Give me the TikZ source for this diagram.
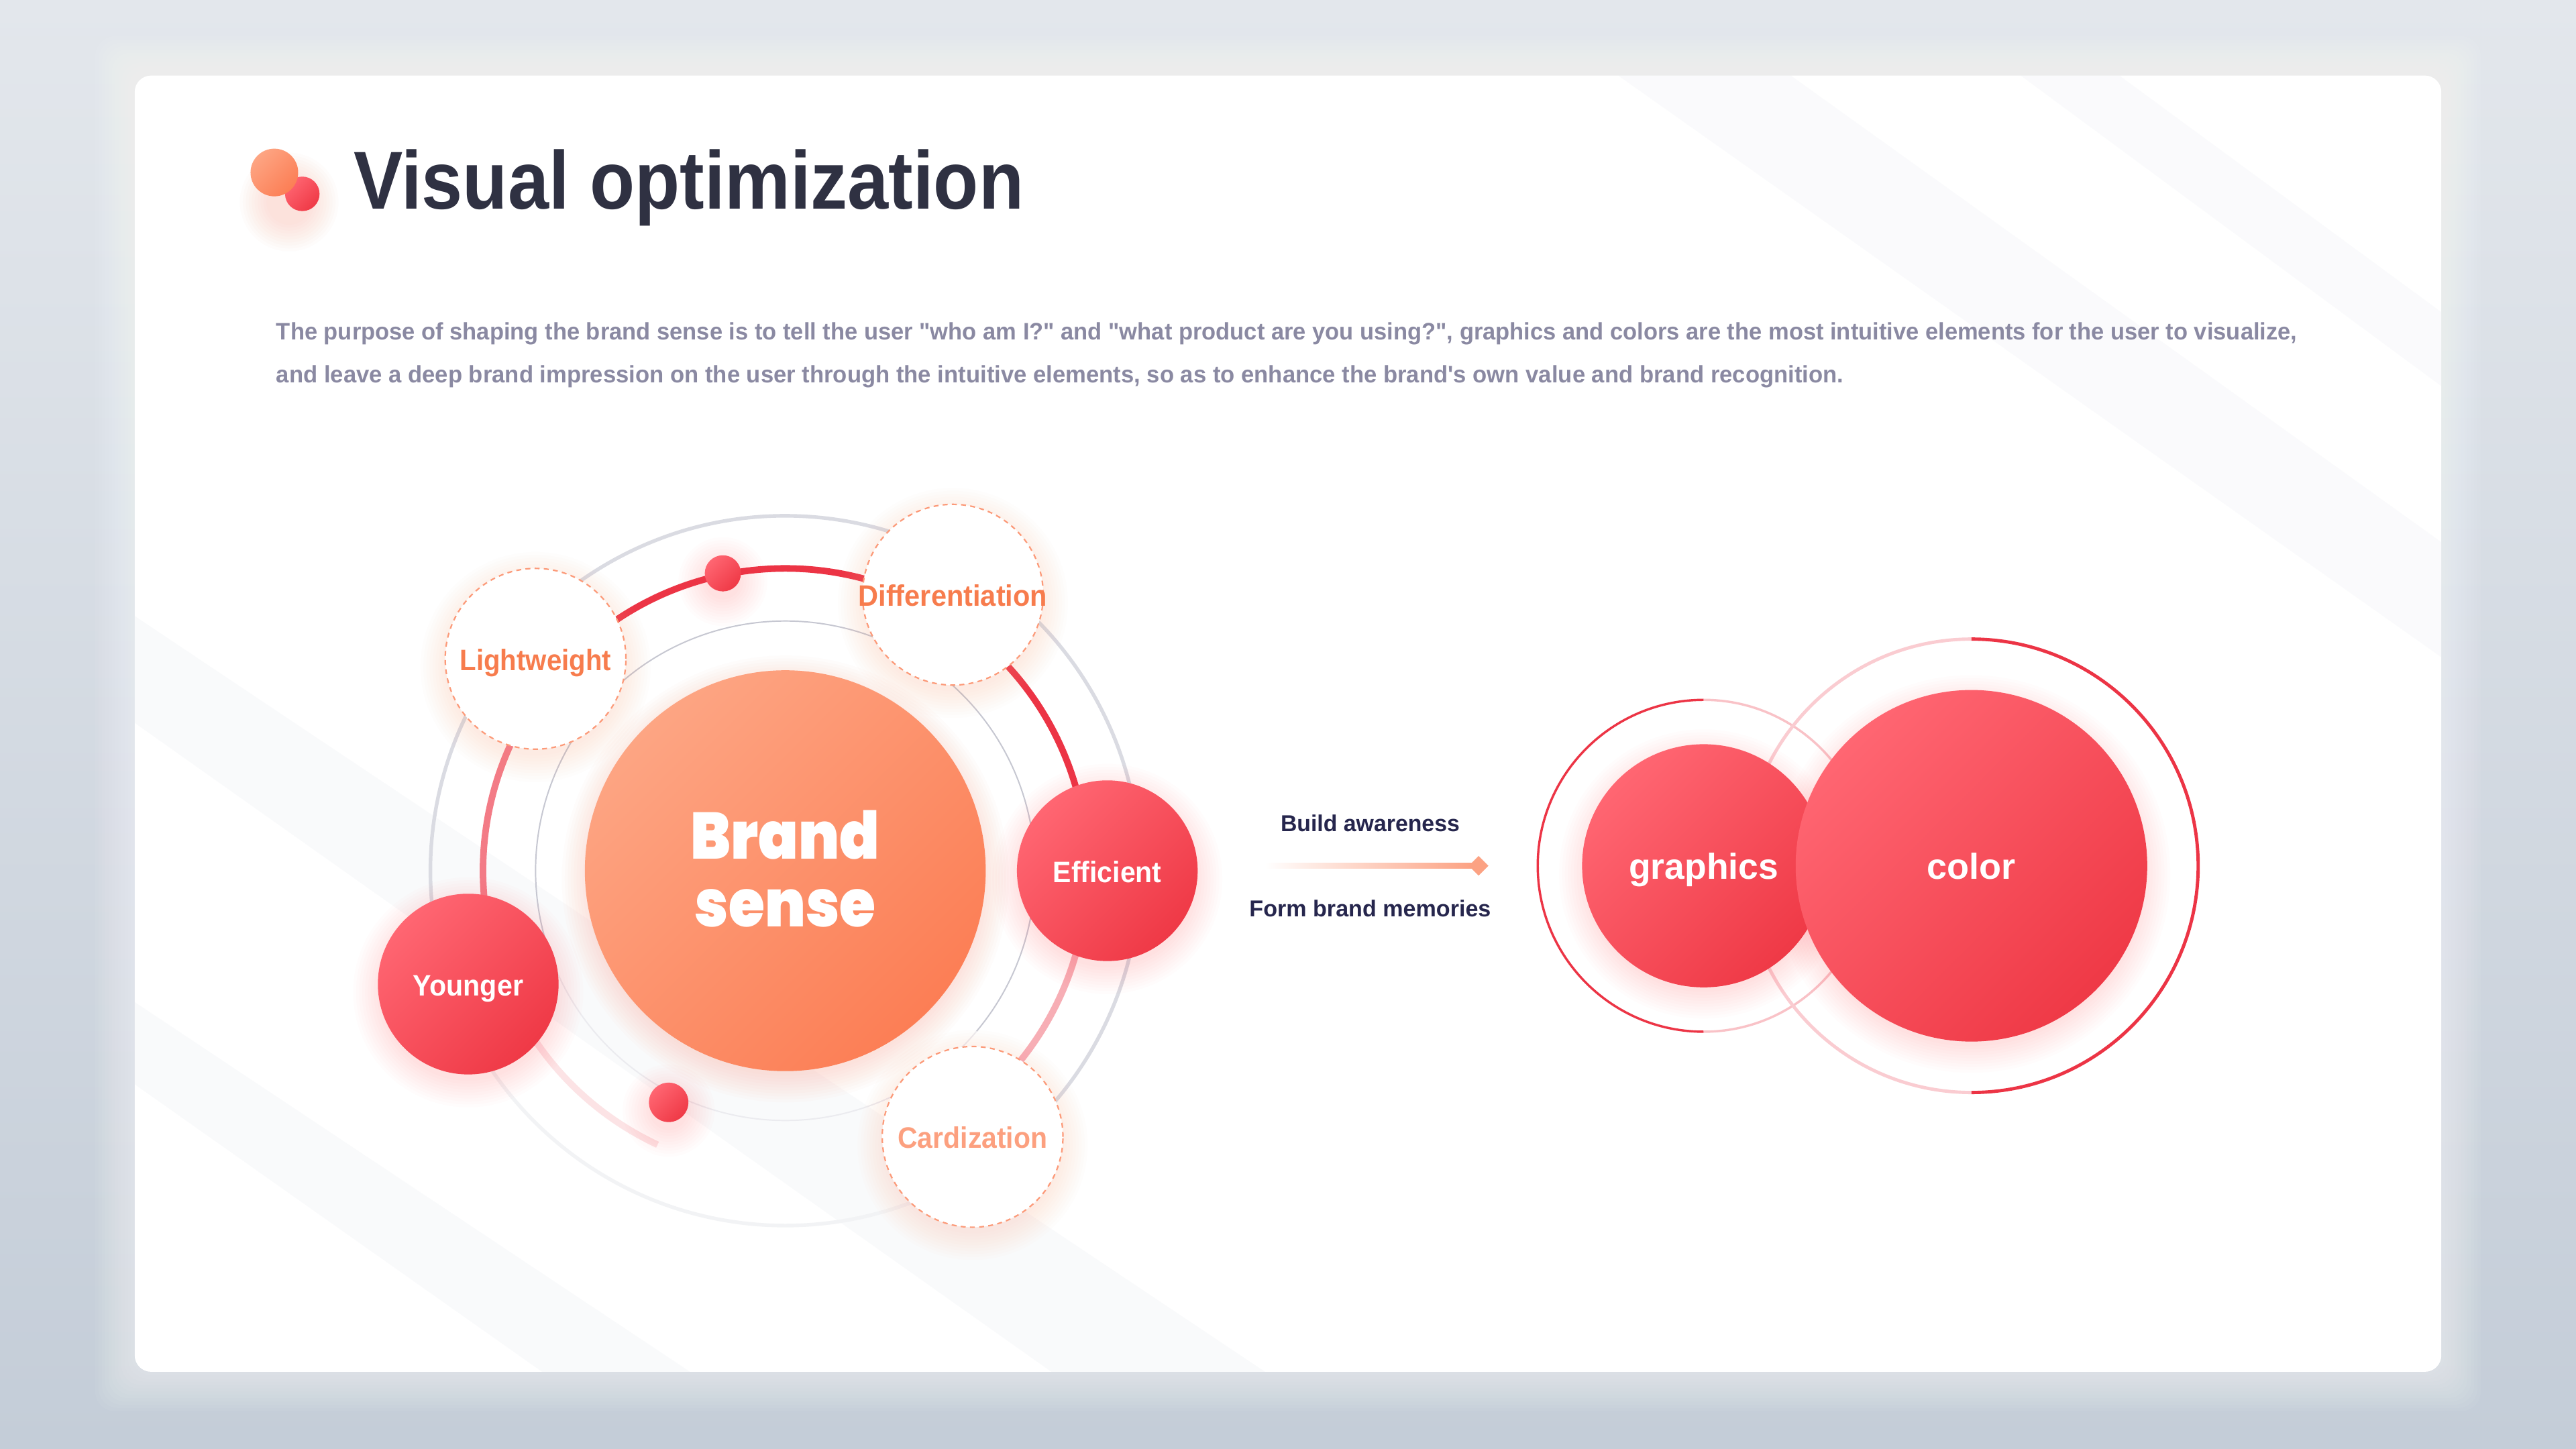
\documentclass[tikz,border=0pt]{standalone}
\usepackage{fontspec}
\setmainfont{Liberation Sans}[Ligatures=TeXOff]
\newfontfamily\brandfont{Poppins}[BoldFont={* Black}]
\usepackage{graphicx}
\usetikzlibrary{positioning}

\definecolor{titleC}{HTML}{2F3142}
\definecolor{bodyC}{HTML}{8A89A2}
\definecolor{navyC}{HTML}{26264D}
\definecolor{orangeL}{HTML}{FDA583}
\definecolor{orangeD}{HTML}{FC7E55}
\definecolor{redL}{HTML}{FF6672}
\definecolor{redD}{HTML}{EF3946}
\definecolor{ringRed}{HTML}{EC3445}
\definecolor{dashC}{HTML}{FC9A79}
\definecolor{lblC}{HTML}{F77C4D}
\definecolor{lblLightC}{HTML}{FCA07F}
\definecolor{greyRing}{HTML}{DADBE2}
\definecolor{thinRing}{HTML}{C6C7D1}
\definecolor{lineC}{HTML}{FCA283}
\definecolor{stripeC}{HTML}{F1F3F7}
\definecolor{pageTop}{HTML}{E3E7EC}
\definecolor{pageBot}{HTML}{C4CDD8}

% stretch a text to a given width, height unchanged
\newcommand{\fitw}[2]{\resizebox{#1}{\height}{#2}}
% soft glow under a round shape
\newcommand{\halo}[4]{%
  \foreach \k in {1,...,10}{\fill[#4, opacity=0.02] (#1,#2+5) circle ({#3+1.8*\k});}}

\tikzset{
  redball/.style={circle, inner sep=0pt, minimum size=#1, top color=redL,
    bottom color=redD, shading angle=45},
  dashball/.style={circle, inner sep=0pt, minimum size=110pt, fill=white,
    draw=dashC, line width=0.9pt, dash pattern=on 3pt off 2.6pt},
  lbl/.style={font=\bfseries\fontsize{18}{20}\selectfont, inner sep=0pt, anchor=base},
}

\begin{document}
\begin{tikzpicture}[x=1pt,y=-1pt]
  \useasboundingbox (0,0) rectangle (1568,882);
  % page and card
  \shade[top color=pageTop, bottom color=pageBot] (0,0) rectangle (1568,882);
  \foreach \k in {1,...,12}{
    \fill[white, opacity=0.05, rounded corners=12pt] (82-2*\k,46-2*\k) rectangle (1486+2*\k,835+2*\k);}
  \fill[white, rounded corners=10pt] (82,46) rectangle (1486,835);
  \begin{scope}
    \clip[rounded corners=10pt] (82,46) rectangle (1486,835);
    \fill[stripeC, opacity=0.4] (82,375) -- (82,440) -- (640,835) -- (770,835) -- cycle;
    \fill[stripeC, opacity=0.4] (82,610) -- (82,660) -- (330,835) -- (420,835) -- cycle;
    \fill[stripeC, opacity=0.35] (985,46) -- (1090,46) -- (1486,330) -- (1486,400) -- cycle;
    \fill[stripeC, opacity=0.35] (1230,46) -- (1290,46) -- (1486,190) -- (1486,235) -- cycle;
  \end{scope}

  % title
  \halo{176}{118}{12}{orangeD}
  \shade[top color=redL, bottom color=redD, shading angle=45] (184,118) circle (10.5);
  \shade[top color=orangeL, bottom color=orangeD, shading angle=45] (167,105) circle (14.5);
  \node[anchor=base west, inner sep=0pt, text=titleC, font=\bfseries\fontsize{50}{54}\selectfont]
    (title) at (215,127) {\fitw{408pt}{Visual optimization}};
  \node[anchor=base west, inner sep=0pt, text=bodyC, font=\bfseries\fontsize{14.5}{17}\selectfont]
    (body1) at (168,207) {\fitw{1230pt}{The purpose of shaping the brand sense is to tell the user "who am I?" and "what product are you using?", graphics and colors are the most intuitive elements for the user to visualize,}};
  \node[anchor=base west, inner sep=0pt, text=bodyC, font=\bfseries\fontsize{14.5}{17}\selectfont]
    (body2) at (168,233) {\fitw{954pt}{and leave a deep brand impression on the user through the intuitive elements, so as to enhance the brand's own value and brand recognition.}};

  % rings round the brand circle
  \draw[greyRing, line width=2.2pt] (478,530) ++(60:216) arc[start angle=60, end angle=-200, radius=216];
  \draw[greyRing!35, line width=2.2pt] (478,530) ++(-200:216) arc[start angle=-200, end angle=-300, radius=216];
  \draw[thinRing, line width=0.8pt] (478,530) ++(40:152) arc[start angle=40, end angle=-200, radius=152];
  \draw[thinRing!35, line width=0.8pt] (478,530) ++(-200:152) arc[start angle=-200, end angle=-320, radius=152];
  \draw[ringRed, line width=4pt] (478,530) ++(-140:184) arc[start angle=-140, end angle=0, radius=184];
  \draw[ringRed!40, line width=4pt] (478,530) ++(0:184) arc[start angle=0, end angle=55, radius=184];
  \draw[ringRed!65, line width=4pt] (478,530) ++(-200:184) arc[start angle=-200, end angle=-140, radius=184];
  \draw[ringRed!14, line width=4pt] (478,530) ++(-245:184) arc[start angle=-245, end angle=-200, radius=184];

  % brand circle and satellites
  \halo{478}{530}{118}{orangeD}
  \node[circle, inner sep=0pt, minimum size=244pt, top color=orangeL, bottom color=orangeD,
    shading angle=45] (brand) at (478,530) {};
  \node[anchor=base, inner sep=0pt, text=white, font=\brandfont\bfseries\fontsize{40}{44}\selectfont]
    (brandTxt) at (478,523) {\fitw{115pt}{Brand}};
  \node[anchor=base, inner sep=0pt, text=white, font=\brandfont\bfseries\fontsize{40}{44}\selectfont]
    (senseTxt) at (478,564) {\fitw{110pt}{sense}};

  \halo{326}{401}{52}{orangeL}
  \halo{580}{362}{52}{orangeL}
  \halo{592}{692}{52}{orangeL}
  \halo{674}{530}{52}{redL}
  \halo{285}{599}{52}{redL}
  \node[dashball] (light) at (326,401) {};
  \node[dashball] (diff) at (580,362) {};
  \node[dashball] (cardz) at (592,692) {};
  \node[redball=110pt] (eff) at (674,530) {};
  \node[redball=110pt] (young) at (285,599) {};
  \node[lbl, text=lblC] at (326,408) {\fitw{92pt}{Lightweight}};
  \node[lbl, text=lblC] at (580,369) {\fitw{115pt}{Differentiation}};
  \node[lbl, text=lblLightC] at (592,699) {\fitw{91pt}{Cardization}};
  \node[lbl, text=white] at (674,537) {\fitw{66pt}{Efficient}};
  \node[lbl, text=white] at (285,606) {\fitw{67pt}{Younger}};

  \halo{440}{349}{9}{redL}
  \halo{407}{671}{10}{redL}
  \node[redball=22pt] (dotA) at (440,349) {};
  \node[redball=24pt] (dotB) at (407,671) {};

  % middle step
  \node[anchor=base, inner sep=0pt, text=navyC, font=\bfseries\fontsize{14}{16}\selectfont]
    (aware) at (834,506) {\fitw{109pt}{Build awareness}};
  \node[anchor=base, inner sep=0pt, text=navyC, font=\bfseries\fontsize{14}{16}\selectfont]
    (memo) at (834,558) {\fitw{147pt}{Form brand memories}};
  \shade[left color=white, right color=lineC] (770,525.5) rectangle (896,528.5);
  \fill[lineC] (900,521) -- (906,527) -- (900,533) -- (894,527) -- cycle;

  % graphics and color
  \draw[ringRed, line width=1.4pt] (1037,527) ++(-90:101) arc[start angle=-90, end angle=-270, radius=101];
  \draw[ringRed!30, line width=1.4pt] (1037,527) ++(90:101) arc[start angle=90, end angle=-90, radius=101];
  \draw[ringRed!25, line width=2pt] (1200,527) ++(-90:138) arc[start angle=-90, end angle=-270, radius=138];
  \draw[ringRed, line width=2pt] (1200,527) ++(90:138) arc[start angle=90, end angle=-90, radius=138];
  \halo{1037}{527}{70}{redL}
  \node[redball=148pt] (graph) at (1037,527) {};
  \halo{1200}{527}{103}{redL}
  \node[redball=214pt] (colr) at (1200,527) {};
  \node[anchor=base, inner sep=0pt, text=white, font=\bfseries\fontsize{22}{24}\selectfont]
    at (1037,535) {\fitw{91pt}{graphics}};
  \node[anchor=base, inner sep=0pt, text=white, font=\bfseries\fontsize{22}{24}\selectfont]
    at (1200,535) {\fitw{54pt}{color}};
\end{tikzpicture}
\end{document}
